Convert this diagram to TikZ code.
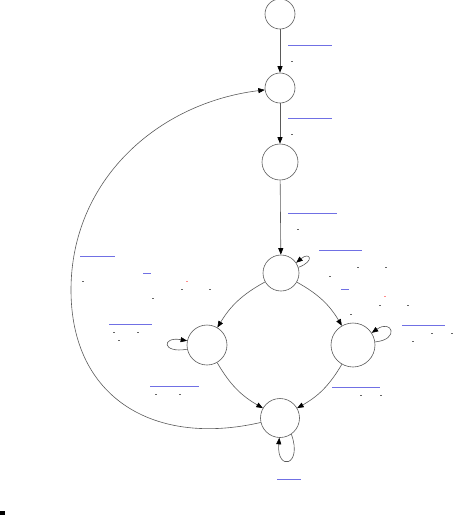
\documentclass[tikz,border=0pt]{standalone}
\usetikzlibrary{arrows.meta}
\definecolor{linkblue}{RGB}{112,112,228}
\definecolor{linegray}{RGB}{90,90,90}
\begin{document}
\begin{tikzpicture}[x=1pt,y=1pt,
  state/.style={circle,draw=linegray,line width=0.6pt,inner sep=0pt},
  trans/.style={draw=linegray,line width=0.6pt,-{Triangle[length=6.5pt,width=5pt,color=black,fill=black]}},
  lnk/.style={draw=linkblue,line width=0.9pt},
  smalldash/.style={draw=black!60,line width=0.6pt},
  reddash/.style={draw=red!45,line width=0.6pt}]
\useasboundingbox (0,0) rectangle (474,-515);

\node[state,minimum size=30pt] (s1) at (280,-14) {};
\node[state,minimum size=30pt] (s2) at (280,-88) {};
\node[state,minimum size=36pt] (s3) at (280,-162) {};
\node[state,minimum size=36pt] (s4) at (281,-273) {};
\node[state,minimum size=40pt] (s5) at (207,-345) {};
\node[state,minimum size=44pt] (s6) at (353,-345) {};
\node[state,minimum size=39pt] (s7) at (280,-418) {};
\coordinate (far) at (71,-290);

\draw[trans] (s1) -- (s2);
\draw[trans] (s2) -- (s3);
\draw[trans] (s3) -- (s4);
\draw[trans] (s4) to[bend right=15] (s5);
\draw[trans] (s4) to[bend left=15] (s6);
\draw[trans] (s5) to[bend right=15] (s7);
\draw[trans] (s6) to[bend left=15] (s7);
\draw[trans] (s7) to[out=193,in=270,looseness=1.2] (far) to[out=90,in=187] (s2);

\draw[trans] (s4.18) .. controls +(20:18) and +(40:18) .. (s4.34);
\draw[trans] (s5.192) .. controls +(190:26) and +(170:26) .. (s5.168);
\draw[trans] (s6.8) .. controls +(5:25) and +(35:25) .. (s6.33);
\draw[trans] (s7.-55) .. controls +(-70:34) and +(-95:34) .. (s7.-92);

\foreach \a/\b/\y in {288/332/45, 288/332/118, 288/337/213, 80/115/256,
  143/151/273, 109/152/324, 319/362/250, 341/349/289, 402/445/325,
  150/199/386, 332/380/387, 277/301/479}
  \draw[lnk] (\a,-\y) -- (\b,-\y);

\foreach \x/\y in {292/61, 292/134, 298/229, 83/281, 153/298, 182/289,
  210/289, 114/332, 138/332, 119/340, 358/267, 386/267, 330/276,
  380/305, 408/305, 351/314, 432/333, 452/333, 413/341, 156/394,
  180/394, 361/395, 381/395}
  \draw[smalldash] (\x-1,-\y) -- ++(2,0);
\draw[reddash] (186,-281) -- ++(2,0);
\draw[reddash] (384,-296) -- ++(2,0);

\fill[black] (0,-511) rectangle (5,-515);
\end{tikzpicture}
\end{document}
